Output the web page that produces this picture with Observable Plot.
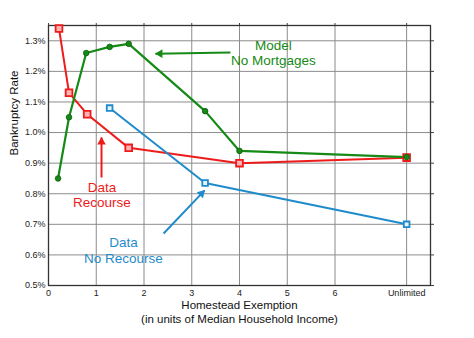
<!DOCTYPE html>
<html>
<head>
<meta charset="utf-8">
<script src="https://cdn.jsdelivr.net/npm/d3@7"></script>
<script src="https://cdn.jsdelivr.net/npm/@observablehq/plot@0.6"></script>
<style>
  html, body { margin: 0; padding: 0; background: #fff; }
  svg { display: block; }
</style>
</head>
<body>
<div id="chart"></div>
<script>
// Exemption values ("Unlimited" is placed at 7.5)
const xTicks = [0, 1, 2, 3, 4, 5, 6, 7.5];
const xTickLabels = ["0", "1", "2", "3", "4", "5", "6", "Unlimited"];
const yTicks = [0.5, 0.6, 0.7, 0.8, 0.9, 1.0, 1.1, 1.2, 1.3];

const recourseX = [0.22, 0.43, 0.81, 1.68, 4.0, 7.5];
const recourseY = [1.34, 1.13, 1.06, 0.95, 0.90, 0.918];

const modelX = [0.2, 0.43, 0.79, 1.28, 1.68, 3.28, 4.0, 7.5];
const modelY = [0.85, 1.05, 1.26, 1.28, 1.29, 1.07, 0.94, 0.92];

const noRecourseX = [1.28, 3.28, 7.5];
const noRecourseY = [1.08, 0.835, 0.70];

const RED = "#ee1b1b", GREEN = "#168a16", BLUE = "#1f8bcc";
const FONT = "Liberation Sans, Arial, Helvetica, sans-serif";

const toRows = (xs, ys) => xs.map((x, i) => ({x, y: ys[i]}));
const recourse = toRows(recourseX, recourseY);
const model = toRows(modelX, modelY);
const noRecourse = toRows(noRecourseX, noRecourseY);

const arrows = [
  {x1: 3.81, y1: 1.262, x2: 2.24, y2: 1.258, c: GREEN, rot: -90},
  {x1: 1.11, y1: 0.853, x2: 1.11, y2: 0.984, c: RED, rot: 0},
  {x1: 2.41, y1: 0.670, x2: 3.27, y2: 0.811, c: BLUE, rot: 44}
];
const labels = [
  {x: 4.71, y: 1.262, t: "Model\nNo Mortgages", c: GREEN},
  {x: 1.12, y: 0.798, t: "Data\nRecourse", c: RED},
  {x: 1.57, y: 0.617, t: "Data\nNo Recourse", c: BLUE}
];

const tickFmt = d => xTickLabels[xTicks.indexOf(d)] ?? "";

const chart = Plot.plot({
  width: 474,
  height: 338,
  marginLeft: 48,
  marginRight: 44,
  marginTop: 25,
  marginBottom: 53,
  style: {fontFamily: FONT, fontSize: "9px", color: "#222", background: "#fff"},
  x: {domain: [0, 8]},
  y: {domain: [0.5, 1.35]},
  marks: [
    Plot.gridX(xTicks, {stroke: "#8c8c8c", strokeOpacity: 1, strokeWidth: 1}),
    Plot.gridY(yTicks, {stroke: "#8c8c8c", strokeOpacity: 1, strokeWidth: 1}),
    Plot.axisX({ticks: xTicks, tickFormat: tickFmt, tickSize: 0, tickPadding: 4, fontSize: 9, label: null}),
    Plot.axisX({anchor: "top", ticks: xTicks, tickFormat: () => "", tickSize: 3, label: null, stroke: "#444"}),
    Plot.axisY({ticks: yTicks, tickFormat: d => d.toFixed(1) + "%", tickSize: 0, tickPadding: 3, fontSize: 9, label: null}),
    Plot.axisY({anchor: "right", ticks: yTicks, tickFormat: () => "", tickSize: 3, label: null, stroke: "#444"}),
    Plot.frame({stroke: "#333", strokeWidth: 1.3}),
    // series lines
    Plot.line(recourse, {x: "x", y: "y", stroke: RED, strokeWidth: 2}),
    Plot.line(model, {x: "x", y: "y", stroke: GREEN, strokeWidth: 2.2}),
    Plot.line(noRecourse, {x: "x", y: "y", stroke: BLUE, strokeWidth: 2}),
    // markers
    Plot.dot(recourse, {x: "x", y: "y", symbol: "square", r: 3.8, fill: "#ffb3b3", stroke: RED, strokeWidth: 1.8}),
    Plot.dot(model, {x: "x", y: "y", r: 2.8, fill: GREEN, stroke: "#0d5e0d", strokeWidth: 0.8}),
    Plot.dot(noRecourse, {x: "x", y: "y", symbol: "square", r: 3.2, fill: "#e6f3fb", stroke: BLUE, strokeWidth: 1.8}),
    // annotation arrows
    Plot.link(arrows, {x1: "x1", y1: "y1", x2: "x2", y2: "y2", stroke: "c", strokeWidth: 2}),
    Plot.dot(arrows.filter(a => a.rot === -90), {x: "x2", y: "y2", symbol: "triangle", r: 3.2, fill: "c", stroke: "none", rotate: -90, dx: 4.5}),
    Plot.dot(arrows.filter(a => a.rot === 0), {x: "x2", y: "y2", symbol: "triangle", r: 3.2, fill: "c", stroke: "none", rotate: 0, dy: 4.5}),
    Plot.dot(arrows.filter(a => a.rot === 44), {x: "x2", y: "y2", symbol: "triangle", r: 3.2, fill: "c", stroke: "none", rotate: 44, dx: -3.1, dy: 3.2}),
    // annotation text
    Plot.text(labels, {x: "x", y: "y", text: "t", fill: "c", fontSize: 13.5, lineHeight: 1.16, textAnchor: "middle", lineAnchor: "middle"}),
    // axis titles
    Plot.text(["Homestead Exemption"], {frameAnchor: "bottom", dy: 20, fontSize: 11.5, fill: "#111", lineAnchor: "middle"}),
    Plot.text(["(in units of Median Household Income)"], {frameAnchor: "bottom", dy: 34, fontSize: 11.5, fill: "#111", lineAnchor: "middle"}),
    Plot.text(["Bankruptcy Rate"], {frameAnchor: "left", dx: -34, rotate: -90, fontSize: 11.5, fill: "#111", lineAnchor: "middle"})
  ]
});
document.getElementById("chart").appendChild(chart);
</script>
</body>
</html>
